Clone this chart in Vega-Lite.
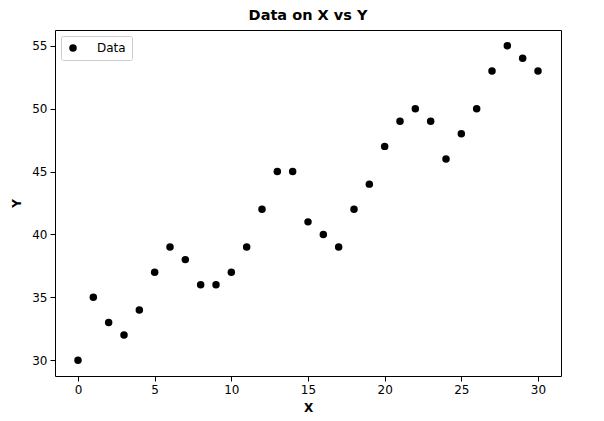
{
  "$schema": "https://vega.github.io/schema/vega-lite/v6.json",
  "width": 506,
  "height": 346,
  "autosize": {"type": "none"},
  "padding": {"left": 55, "top": 30, "right": 43, "bottom": 45},
  "background": "white",
  "title": {"text": "Data on X vs Y", "font": "DejaVu Sans", "fontSize": 14.5, "fontWeight": "bold", "color": "black", "offset": 7, "anchor": "middle"},
  "config": {
    "font": "DejaVu Sans",
    "view": {"stroke": "black", "strokeWidth": 1},
    "axis": {"grid": false, "domain": false, "tickColor": "black", "tickSize": 5, "labelColor": "black", "labelFontSize": 12, "labelFont": "DejaVu Sans", "titleFont": "DejaVu Sans", "titleFontSize": 12, "titleFontWeight": "bold", "titleColor": "black", "labelPadding": 3}
  },
  "data": {"values": [
    {"x": 0, "y": 30}, {"x": 1, "y": 35}, {"x": 2, "y": 33}, {"x": 3, "y": 32}, {"x": 4, "y": 34},
    {"x": 5, "y": 37}, {"x": 6, "y": 39}, {"x": 7, "y": 38}, {"x": 8, "y": 36}, {"x": 9, "y": 36},
    {"x": 10, "y": 37}, {"x": 11, "y": 39}, {"x": 12, "y": 42}, {"x": 13, "y": 45}, {"x": 14, "y": 45},
    {"x": 15, "y": 41}, {"x": 16, "y": 40}, {"x": 17, "y": 39}, {"x": 18, "y": 42}, {"x": 19, "y": 44},
    {"x": 20, "y": 47}, {"x": 21, "y": 49}, {"x": 22, "y": 50}, {"x": 23, "y": 49}, {"x": 24, "y": 46},
    {"x": 25, "y": 48}, {"x": 26, "y": 50}, {"x": 27, "y": 53}, {"x": 28, "y": 55}, {"x": 29, "y": 54},
    {"x": 30, "y": 53}
  ]},
  "mark": {"type": "point", "filled": true, "opacity": 1, "size": 56},
  "encoding": {
    "x": {"field": "x", "type": "quantitative", "title": "X", "scale": {"domain": [-1.5, 31.5], "nice": false, "zero": false}, "axis": {"values": [0, 5, 10, 15, 20, 25, 30], "titlePadding": 7}},
    "y": {"field": "y", "type": "quantitative", "title": "Y", "scale": {"domain": [28.75, 56.25], "nice": false, "zero": false}, "axis": {"values": [30, 35, 40, 45, 50, 55], "titlePadding": 8}},
    "color": {"datum": "Data", "type": "nominal", "scale": {"range": ["black"]}, "legend": {"title": null, "orient": "top-left", "offset": 6, "fillColor": "white", "strokeColor": "#cccccc", "cornerRadius": 2, "padding": 6, "symbolType": "circle", "symbolSize": 56, "symbolFillColor": "black", "symbolStrokeWidth": 0, "labelFontSize": 12, "labelFont": "DejaVu Sans", "labelColor": "black", "labelOffset": 18}}
  }
}
